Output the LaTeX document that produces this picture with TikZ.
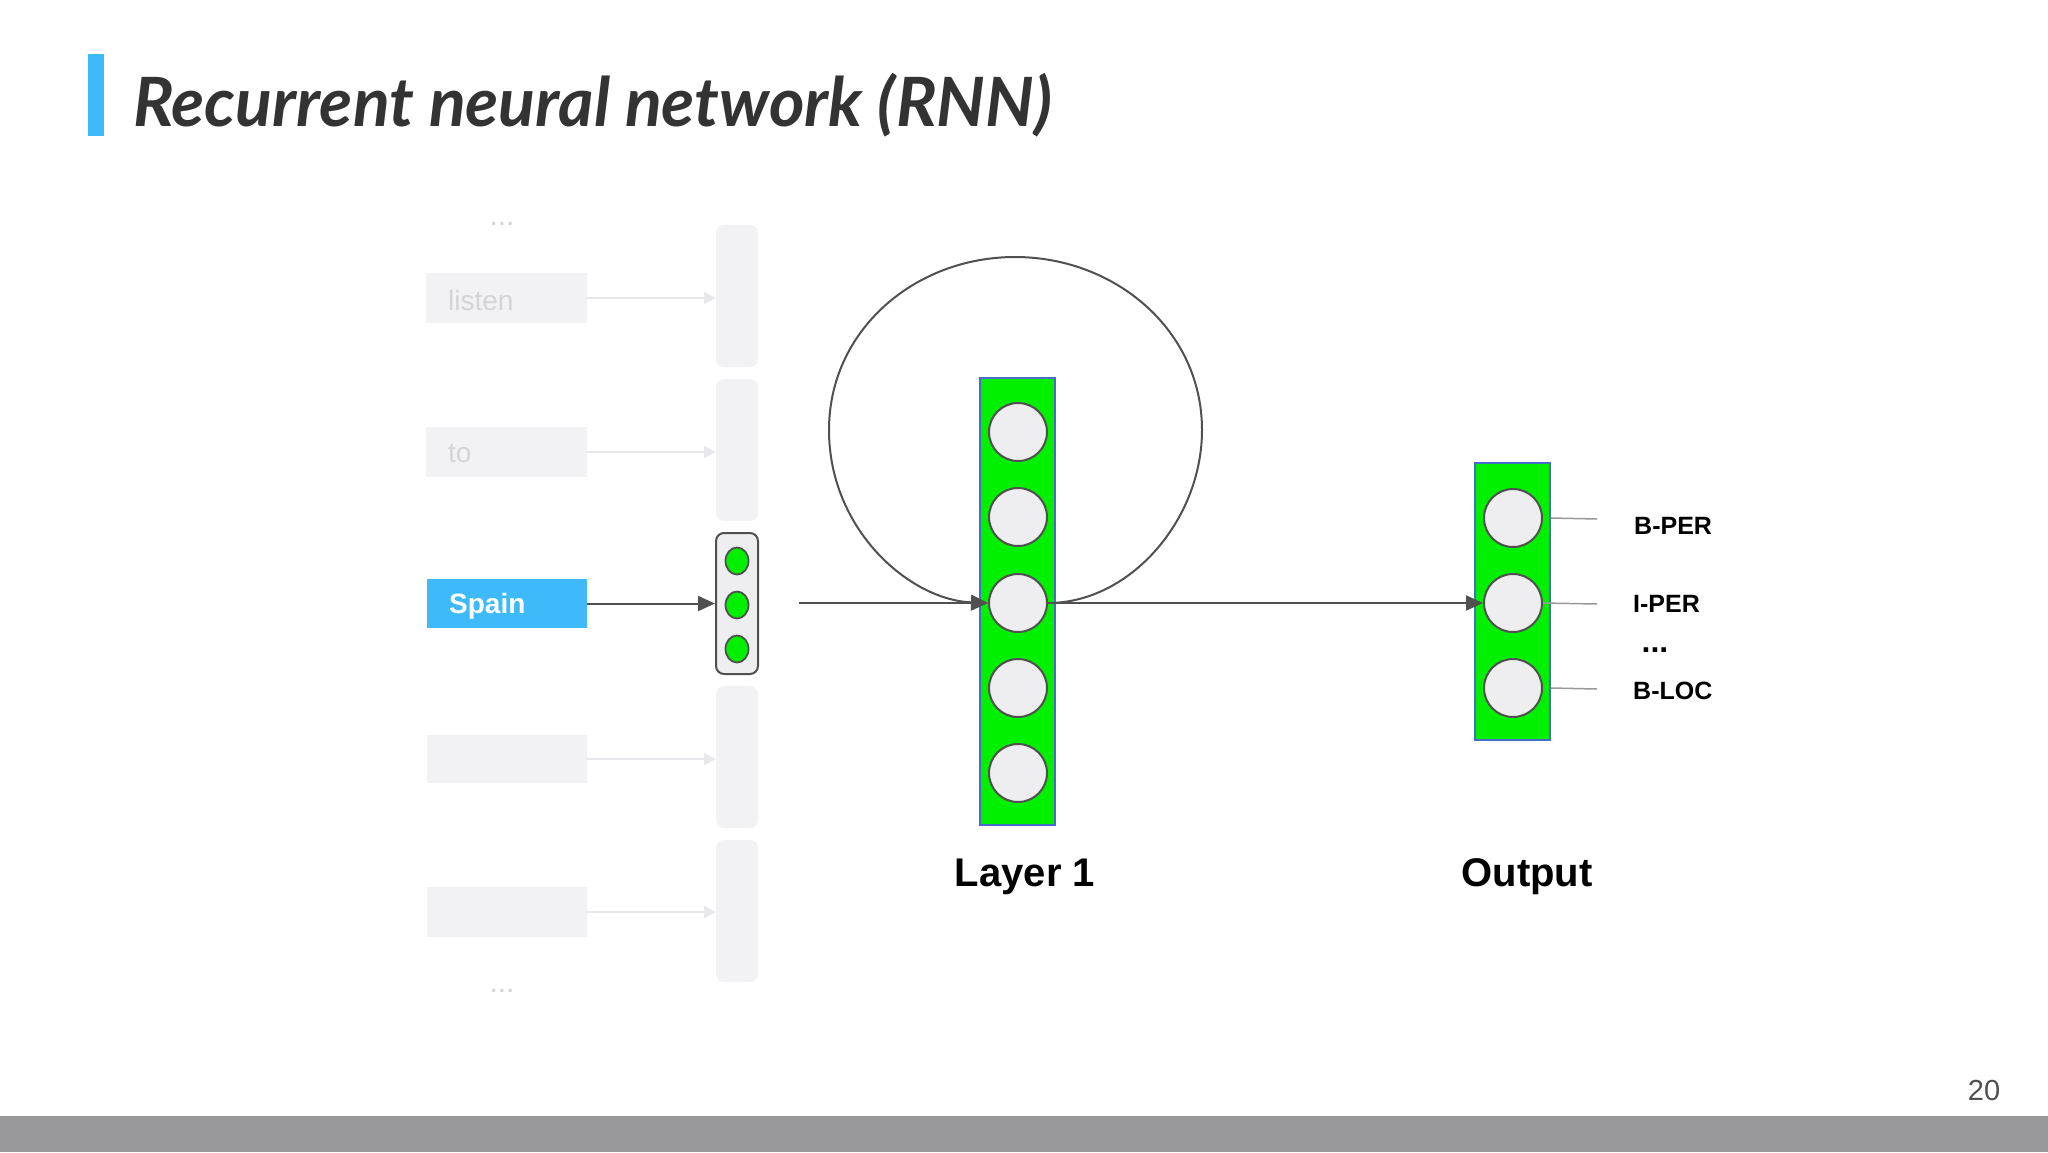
\documentclass[tikz,border=0pt]{standalone}
\usepackage{fontspec}
\setmainfont{Liberation Sans}
\newfontfamily\latofont{Lato}
\usetikzlibrary{arrows.meta,shapes.geometric}
\definecolor{barblue}{RGB}{62,185,250}
\definecolor{titlegray}{RGB}{51,51,51}
\definecolor{layergreen}{RGB}{0,240,0}
\definecolor{layeredge}{RGB}{70,110,200}
\definecolor{cellfill}{RGB}{238,238,240}
\definecolor{ink}{RGB}{80,80,80}
\definecolor{fadefill}{RGB}{242,242,244}
\definecolor{fadeline}{RGB}{232,232,236}
\definecolor{fadetext}{RGB}{212,212,216}
\definecolor{footgray}{RGB}{153,152,155}
\tikzset{
  cell/.style={circle, draw=ink, line width=2pt, fill=cellfill, minimum size=58pt, inner sep=0pt},
  layerbox/.style={draw=layeredge, line width=1.5pt, fill=layergreen},
  wordbox/.style={fill=fadefill, draw=none},
  fadevec/.style={fill=fadefill, draw=none, rounded corners=8pt},
  fadearrow/.style={draw=fadeline, line width=2pt, -{Triangle[length=12pt,width=12pt]}},
  mainarrow/.style={draw=ink, line width=2pt, -{Triangle[length=17pt,width=15pt]}},
  tagline/.style={draw=gray!80, line width=1.5pt},
  tag/.style={font=\fontsize{25}{28}\selectfont\bfseries, anchor=base west, inner sep=0pt},
  caption/.style={font=\fontsize{40}{46}\selectfont\bfseries, anchor=base, inner sep=0pt},
  smallcell/.style={ellipse, draw=ink, line width=1.8pt, fill=layergreen, minimum width=23pt, minimum height=27pt, inner sep=0pt}
}
\begin{document}
\begin{tikzpicture}[x=1pt,y=-1pt]
\useasboundingbox (0,0) rectangle (2048,1152);
\fill[white] (0,0) rectangle (2048,1152);
% title
\fill[barblue] (88,54) rectangle (104,136);
\node[anchor=base west, inner sep=0pt, text=titlegray, font=\latofont\bfseries\itshape\fontsize{68}{78}\selectfont] (title) at (133,126) {Recurrent neural network (RNN)};
% footer
\fill[footgray] (0,1116) rectangle (2048,1152);
\node[anchor=base, inner sep=0pt, text=ink, font=\fontsize{29}{32}\selectfont] (pagenum) at (1984,1100) {20};
% faded word column
\node[anchor=base, text=fadetext, font=\fontsize{30}{32}\selectfont, inner sep=0pt] (dotstop) at (502,225) {...};
\node[anchor=base, text=fadetext, font=\fontsize{30}{32}\selectfont, inner sep=0pt] (dotsbot) at (502,992) {...};
\path[wordbox] (426,273) rectangle (587,323);
\coordinate (w1e) at (587,298);
\node[anchor=base west, inner sep=0pt, text=fadetext, font=\fontsize{28}{32}\selectfont] (wlisten) at (448,310) {listen};
\path[wordbox] (426,427) rectangle (587,477);
\coordinate (w2e) at (587,452);
\node[anchor=base west, inner sep=0pt, text=fadetext, font=\fontsize{28}{32}\selectfont] (wto) at (448,462) {to};
\path[wordbox] (427,735) rectangle (587,783);
\coordinate (w4e) at (587,759);
\path[wordbox] (427,887) rectangle (587,937);
\coordinate (w5e) at (587,912);
\path[fadevec] (716,225) rectangle (758,367);
\coordinate (v1w) at (716,298);
\path[fadevec] (716,379) rectangle (758,521);
\coordinate (v2w) at (716,452);
\path[fadevec] (716,686) rectangle (758,828);
\coordinate (v4w) at (716,759);
\path[fadevec] (716,840) rectangle (758,982);
\coordinate (v5w) at (716,912);
\draw[fadearrow] (w1e) -- (v1w);
\draw[fadearrow] (w2e) -- (v2w);
\draw[fadearrow] (w4e) -- (v4w);
\draw[fadearrow] (w5e) -- (v5w);
% Spain
\node[fill=barblue, minimum width=160pt, minimum height=49pt, inner sep=0pt] (spain) at (506.5,603.5) {};
\node[anchor=base west, inner sep=0pt, text=white, font=\fontsize{28}{32}\selectfont\bfseries] (spaintext) at (449,613) {Spain};
\node[draw=ink, line width=2pt, fill=cellfill, rounded corners=8pt, minimum width=42pt, minimum height=141pt, inner sep=0pt] (emb) at (737,603.5) {};
\node[smallcell] (e1) at (737,561) {};
\node[smallcell] (e2) at (737,605) {};
\node[smallcell] (e3) at (737,649) {};
\draw[mainarrow] (spain.east) -- (emb.west);
% Layer 1
\node[layerbox, minimum width=75pt, minimum height=447pt, inner sep=0pt] (layer) at (1017.5,601.5) {};
\node[cell] (h1) at (1018,432) {};
\node[cell] (h2) at (1018,517) {};
\node[cell] (h3) at (1018,603) {};
\node[cell] (h4) at (1018,688) {};
\node[cell] (h5) at (1018,773) {};
\node[caption] (layerlab) at (1025,886) {Layer 1};
% recurrent loop
\draw[mainarrow] (h3.east) .. controls (1130,603) and (1202,520) .. (1202,430)
  .. controls (1202,330) and (1115,257) .. (1015,257)
  .. controls (915,257) and (829,330) .. (829,430)
  .. controls (829,530) and (910,600) .. (h3.west);
\coordinate (instart) at (799,603);
\draw[mainarrow] (instart) -- (h3.west);
% Output
\node[layerbox, minimum width=75pt, minimum height=277pt, inner sep=0pt] (outbox) at (1512.5,601.5) {};
\node[cell] (o1) at (1513,518) {};
\node[cell] (o2) at (1513,603) {};
\node[cell] (o3) at (1513,688) {};
\node[caption] (outlab) at (1527,886) {Output};
\draw[mainarrow] (h3.east) -- (o2.west);
\coordinate (t1) at (1597,519);
\coordinate (t2) at (1597,604);
\coordinate (t3) at (1597,689);
\draw[tagline] (o1.east -| outbox.east) -- (t1);
\draw[tagline] (o2.east) -- (t2);
\draw[tagline] (o3.east -| outbox.east) -- (t3);
\node[tag] (bper) at (1634,534) {B-PER};
\node[tag] (iper) at (1633,612) {I-PER};
\node[tag, anchor=base, font=\fontsize{32}{34}\selectfont\bfseries] (tdots) at (1655,652) {...};
\node[tag] (bloc) at (1633,699) {B-LOC};
\end{tikzpicture}
\end{document}
